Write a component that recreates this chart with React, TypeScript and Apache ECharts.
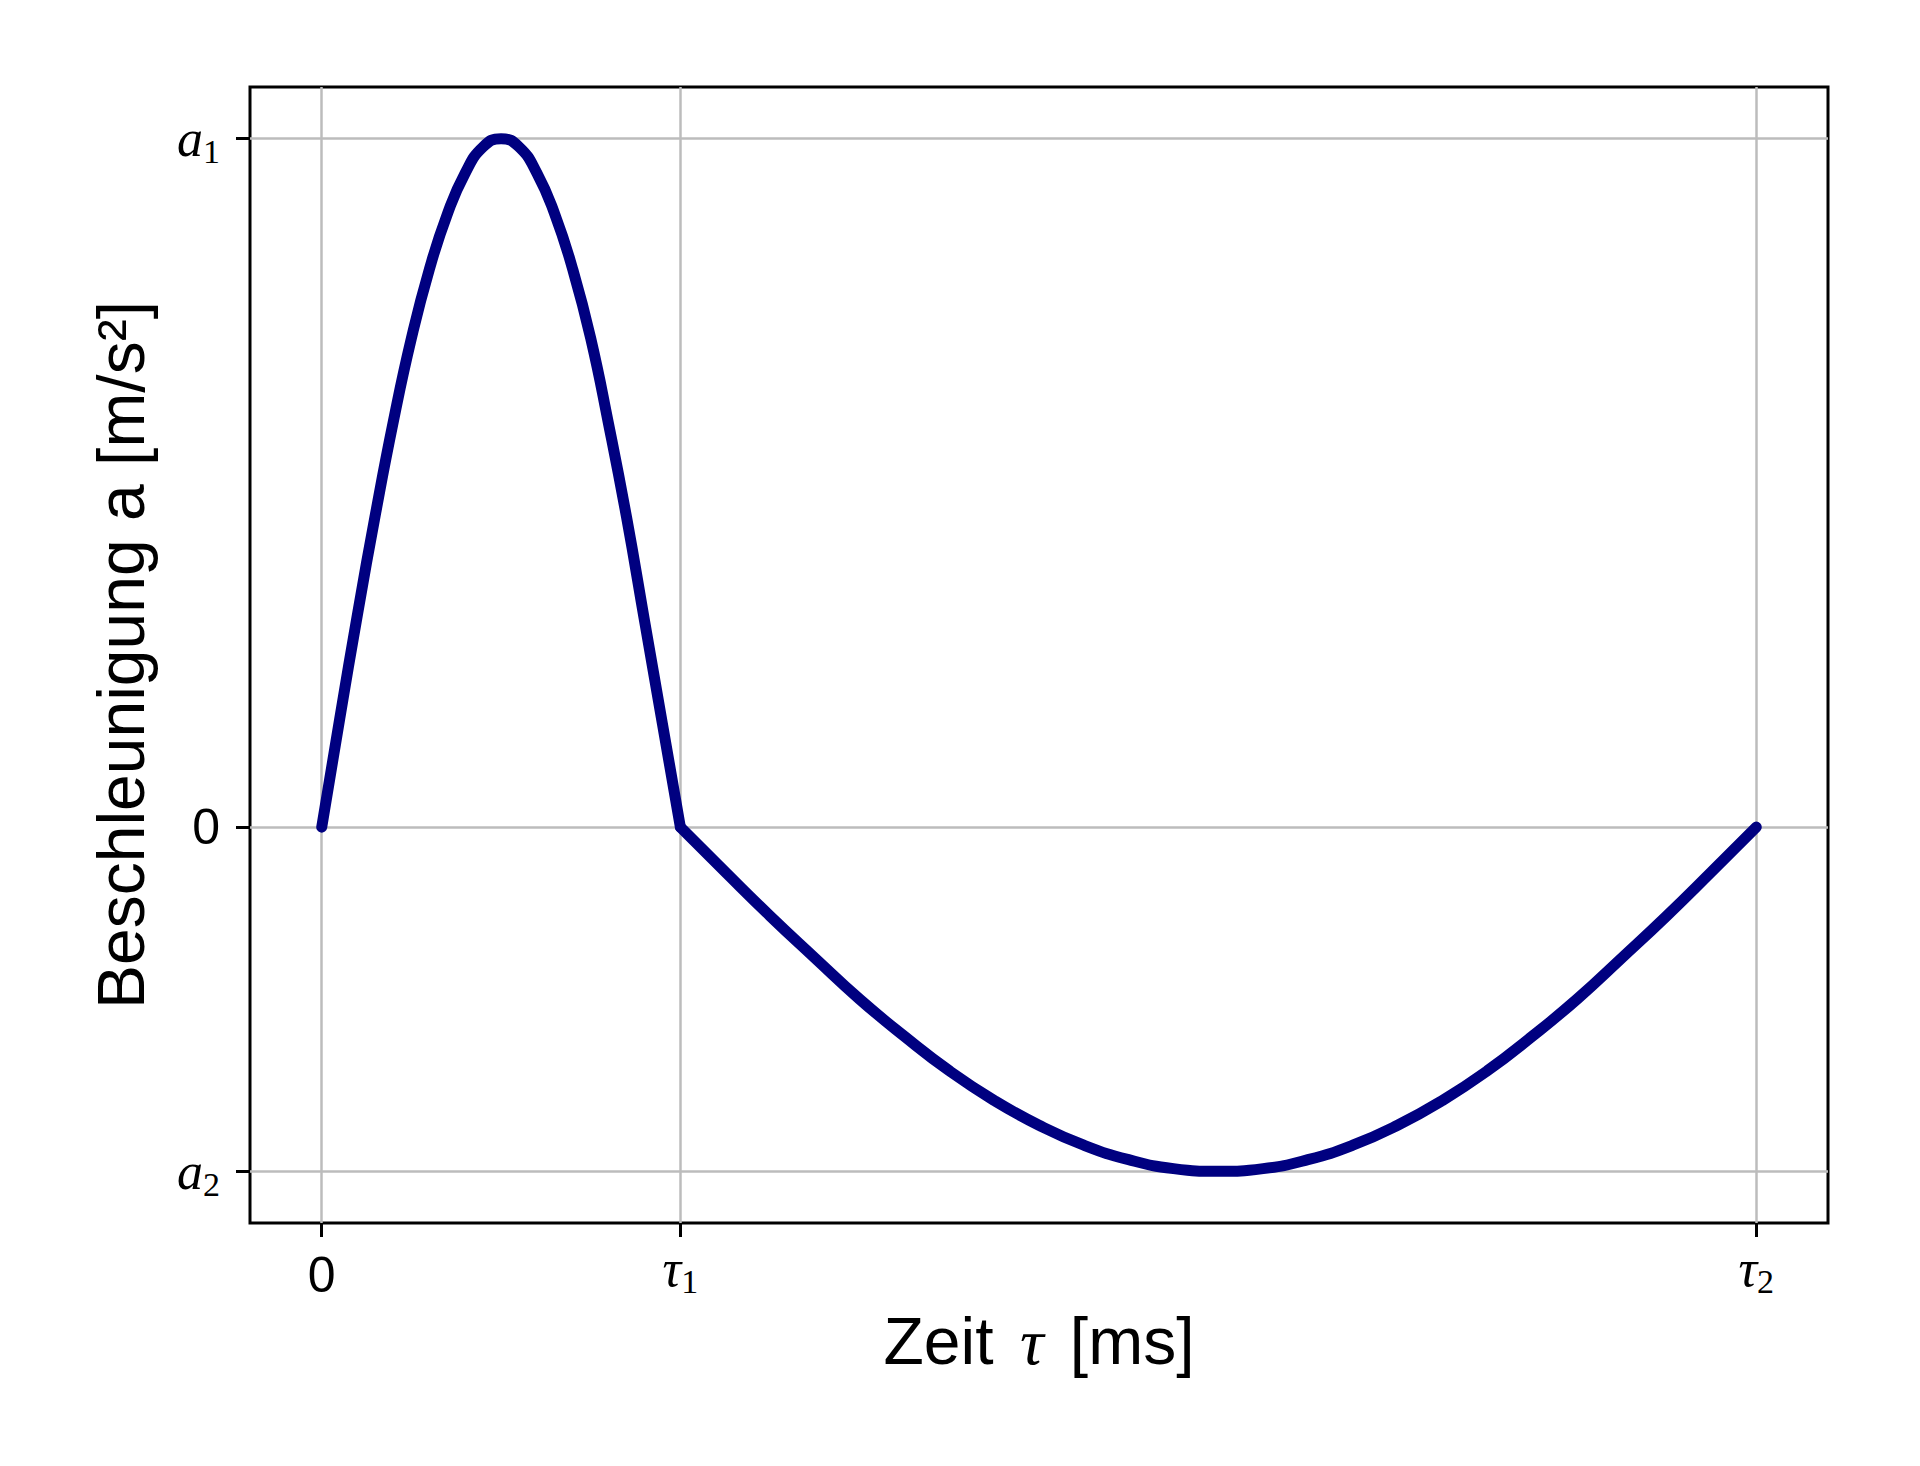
import React, { useEffect, useRef } from "react";
import * as echarts from "echarts";

// Tick positions and labels (τ1 = 1, τ2 = 4; a1 = 1, a2 = -0.5 in relative units)
const xTickValues = [0, 1, 4];
const xTickLabels = ["0", "τ|1", "τ|2"];
const yTickValues = [-0.5, 0, 1];
const yTickLabels = ["a|2", "0", "a|1"];

// Phase 1: positive pulse between 0 and τ1
const phase1Time = [0, 0.05, 0.1, 0.15, 0.2, 0.25, 0.3, 0.35, 0.4, 0.45, 0.5, 0.55, 0.6, 0.65, 0.7, 0.75, 0.8, 0.85, 0.9, 0.95, 1.0];
const phase1Accel = [0, 0.157, 0.31, 0.455, 0.59, 0.71, 0.81, 0.89, 0.95, 0.988, 1.0, 0.988, 0.95, 0.89, 0.81, 0.71, 0.585, 0.45, 0.3, 0.15, 0];

// Phase 2: negative pulse between τ1 and τ2
const phase2Time = [1.0, 1.125, 1.25, 1.375, 1.5, 1.625, 1.75, 1.875, 2.0, 2.125, 2.25, 2.375, 2.5, 2.625, 2.75, 2.875, 3.0, 3.125, 3.25, 3.375, 3.5, 3.625, 3.75, 3.875, 4.0];
const phase2Accel = [0, -0.065, -0.129, -0.19, -0.25, -0.304, -0.354, -0.397, -0.433, -0.462, -0.483, -0.496, -0.5, -0.496, -0.483, -0.462, -0.433, -0.397, -0.354, -0.304, -0.25, -0.19, -0.129, -0.065, 0];

const xAxisTitle = "Zeit {t|τ} [ms]";
const yAxisTitle = "Beschleunigung a [m/s²]";

const SANS = "Liberation Sans, Arial, sans-serif";
const SERIF = "Liberation Serif, Times New Roman, serif";

const tickRich = {
  i: { fontFamily: SERIF, fontStyle: "italic", fontSize: 52, color: "#000", lineHeight: 60, verticalAlign: "middle" },
  s: { fontFamily: SERIF, fontSize: 34, color: "#000", lineHeight: 60, verticalAlign: "bottom" },
  n: { fontFamily: SANS, fontSize: 50, color: "#000", lineHeight: 74, verticalAlign: "middle" },
};

function toRich(label: string): string {
  if (label.includes("|")) {
    const [base, sub] = label.split("|");
    return `{i|${base}}{s|${sub}}`;
  }
  return `{n|${label}}`;
}

function labelFor(values: number[], labels: string[], v: number): string {
  const idx = values.findIndex((x) => Math.abs(x - v) < 1e-9);
  return idx >= 0 ? toRich(labels[idx]) : "";
}

export default function App() {
  const ref = useRef<HTMLDivElement>(null);

  useEffect(() => {
    if (!ref.current) return;
    const chart = echarts.init(ref.current, null, { renderer: "svg" });
    const lineStyle = { color: "#000080", width: 11, cap: "round" as const, join: "round" as const };
    chart.setOption({
      animation: false,
      backgroundColor: "#fff",
      textStyle: { fontFamily: SANS },
      grid: {
        left: 250,
        right: 92,
        top: 87,
        bottom: 243,
        show: true,
        borderColor: "#000",
        borderWidth: 3,
        backgroundColor: "transparent",
        containLabel: false,
      },
      xAxis: {
        type: "value",
        min: -0.2,
        max: 4.2,
        axisLine: { show: false, onZero: false },
        axisTick: {
          show: true,
          customValues: xTickValues,
          length: 14,
          inside: false,
          lineStyle: { color: "#000", width: 3 },
        },
        axisLabel: {
          customValues: xTickValues,
          margin: 15,
          verticalAlign: "top",
          formatter: (v: number) => labelFor(xTickValues, xTickLabels, v),
          rich: tickRich,
        },
        splitLine: { show: true, lineStyle: { color: "#bcbcbc", width: 2.5 } },
        name: xAxisTitle,
        nameLocation: "middle",
        nameGap: 85,
        nameTextStyle: {
          fontFamily: SANS,
          fontSize: 66,
          color: "#000",
          rich: {
            t: { fontFamily: SERIF, fontStyle: "italic", fontSize: 66, color: "#000", padding: [0, 8, 0, 8] },
          },
        },
      },
      yAxis: {
        type: "value",
        min: -0.575,
        max: 1.075,
        axisLine: { show: false, onZero: false },
        axisTick: {
          show: true,
          customValues: yTickValues,
          length: 14,
          inside: false,
          lineStyle: { color: "#000", width: 3 },
        },
        axisLabel: {
          customValues: yTickValues,
          margin: 30,
          formatter: (v: number) => labelFor(yTickValues, yTickLabels, v),
          rich: tickRich,
        },
        splitLine: { show: true, lineStyle: { color: "#bcbcbc", width: 2.5 } },
        name: yAxisTitle,
        nameLocation: "middle",
        nameGap: 96,
        nameRotate: 90,
        nameTextStyle: { fontFamily: SANS, fontSize: 66, color: "#000" },
      },
      series: [
        {
          type: "line",
          data: phase1Time.map((t, i) => [t, phase1Accel[i]]),
          smooth: 0.5,
          symbol: "none",
          showSymbol: false,
          lineStyle,
          z: 5,
        },
        {
          type: "line",
          data: phase2Time.map((t, i) => [t, phase2Accel[i]]),
          smooth: 0.5,
          symbol: "none",
          showSymbol: false,
          lineStyle,
          z: 5,
        },
      ],
    });
    return () => chart.dispose();
  }, []);

  return (
    <div
      ref={ref}
      style={{ position: "absolute", left: 0, top: 0, width: 1920, height: 1466, background: "#fff" }}
    />
  );
}
